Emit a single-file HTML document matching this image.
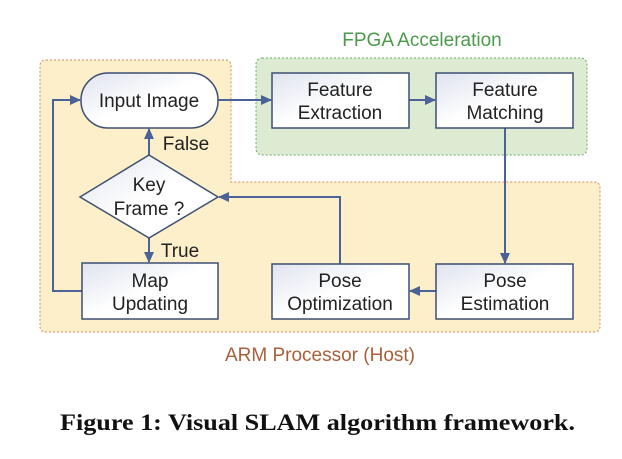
<!DOCTYPE html>
<html><head><style>body{margin:0;background:#fff}</style></head><body>
<svg width="622" height="454" xmlns="http://www.w3.org/2000/svg" font-family="Liberation Sans, sans-serif">
<defs>
<linearGradient id="g" x1="0" y1="0" x2="1" y2="1"><stop offset="0" stop-color="#dfe3ee"/><stop offset="0.5" stop-color="#fff"/></linearGradient>
<marker id="a" markerWidth="11" markerHeight="10" refX="10" refY="5" orient="auto" markerUnits="userSpaceOnUse"><path d="M0,0 L11,5 L0,10z" fill="#4a6295"/></marker>
</defs>
<path d="M46,60 H225 Q231,60 231,66 V182 H594 Q600,182 600,188 V326 Q600,332 594,332 H46 Q40,332 40,326 V66 Q40,60 46,60z" fill="#fcefc9" stroke="#d08a5a" stroke-dasharray="2,2"/>
<rect x="256" y="58" width="331" height="97" rx="6" fill="#dcebd2" stroke="#6aaa6a" stroke-dasharray="2,2"/>
<g stroke="#4a6295" stroke-width="2" fill="none" marker-end="url(#a)">
<line x1="218" y1="100" x2="271" y2="100"/>
<line x1="409" y1="100" x2="435" y2="100"/>
<line x1="505" y1="128" x2="505" y2="263"/>
<line x1="436" y1="291" x2="410" y2="291"/>
<polyline points="340,264 340,197 219,197"/>
<line x1="149" y1="155" x2="149" y2="129"/>
<line x1="149" y1="238" x2="149" y2="262"/>
<polyline points="82,291 53,291 53,100 80,100"/>
</g>
<g stroke="#3d4f73" stroke-width="1.5" fill="url(#g)">
<rect x="81" y="73" width="137" height="55" rx="27"/>
<polygon points="80,197 149,155 218,197 149,238"/>
<rect x="82" y="263" width="136" height="56"/>
<rect x="272" y="73" width="137" height="55"/>
<rect x="436" y="73" width="137" height="55"/>
<rect x="272" y="264" width="137" height="55"/>
<rect x="436" y="264" width="137" height="55"/>
</g>
<g font-size="19" fill="#222" text-anchor="middle">
<text x="149" y="107">Input Image</text>
<text x="149" y="191">Key</text><text x="149" y="215">Frame ?</text>
<text x="150" y="287">Map</text><text x="150" y="310">Updating</text>
<text x="340" y="96">Feature</text><text x="340" y="119">Extraction</text>
<text x="505" y="96">Feature</text><text x="505" y="119">Matching</text>
<text x="340" y="287">Pose</text><text x="340" y="310">Optimization</text>
<text x="505" y="287">Pose</text><text x="505" y="310">Estimation</text>
<text x="186" y="150">False</text>
<text x="180" y="257">True</text>
<text x="422" y="46" fill="#4a9a4a">FPGA Acceleration</text>
<text x="320" y="361" fill="#a8603a">ARM Processor (Host)</text>
</g>
<text x="60" y="430" textLength="515" lengthAdjust="spacingAndGlyphs" font-family="Liberation Serif, serif" font-weight="bold" font-size="23" fill="#111">Figure 1: Visual SLAM algorithm framework.</text>
</svg>
</body></html>
